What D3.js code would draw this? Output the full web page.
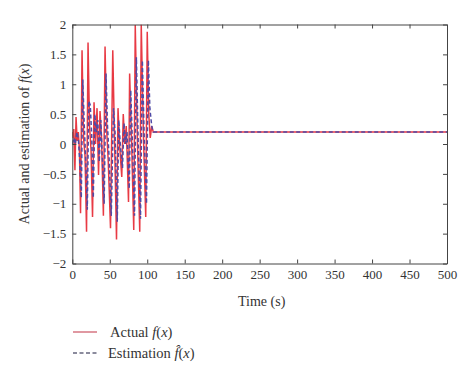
<!DOCTYPE html>
<html>
<head>
<meta charset="utf-8">
<script src="https://cdn.jsdelivr.net/npm/d3@7"></script>
<style>
  body { margin: 0; background: #fff; }
  text { font-family: "Liberation Serif", "DejaVu Serif", serif; fill: #333; }
</style>
</head>
<body>
<div id="chart"></div>
<script>
// Data
const actualTime = [0, 1, 2, 3.5, 5, 6.5, 8, 9.5, 11, 13, 15, 17, 19, 21, 23, 25, 27, 29, 31, 33, 35, 37, 39,
  41.5, 43.7, 46, 48, 51, 54, 56, 59, 61, 63, 66, 68, 70, 72, 75, 76.5, 79, 82, 84, 87, 90, 92, 95, 98, 100,
  102, 104, 106, 108, 500];
const actualValue = [0.2, 0.1, 0.25, -0.44, 0.45, 0.05, 0.2, -0.1, -1.16, 1.57, 0.1, -0.2, -1.47, 1.70, 0.3, -0.1,
  -1.22, 0.7, 0.0, 0.6, -0.52, 0.55, 0.1, -1.2, 1.63, 0.2, -0.3, -1.41, 1.57, 0.3, -1.6, 0.6, 0.0, -0.55, 0.5,
  0.0, 0.3, -0.97, 1.18, 0.1, -1.44, 1.99, 0.0, -1.47, 2.0, 0.1, -1.22, 1.88, 0.5, 0.1, 0.3, 0.2, 0.2];

const estTime = [0, 2, 4, 6, 8, 10, 12, 14, 16, 18, 20, 22, 24, 26, 28, 30, 32, 34, 36, 38, 40, 42.5, 45, 47, 49,
  52, 55, 57, 60, 62, 64, 67, 69, 71, 73, 76, 78, 80, 83, 85.5, 88, 91, 93.5, 96, 99, 101.5, 103.5, 106, 108,
  110, 500];
const estValue = [0.0, 0.1, 0.0, 0.2, 0.1, -0.3, -0.9, 1.08, 0.3, -0.3, -1.1, 0.72, 0.65, 0.1, -0.9, 0.5, 0.2, 0.4,
  -0.3, 0.4, -0.2, -1.0, 1.18, 0.3, -0.2, -1.2, 0.6, 0.2, -1.3, 0.4, 0.0, -0.4, 0.35, 0.0, 0.2, -0.75, 0.9, 0.1,
  -1.2, 1.45, 0.0, -1.25, 1.4, 0.1, -1.0, 1.4, 0.6, 0.3, 0.2, 0.2, 0.2];

const xTicks = [0, 50, 100, 150, 200, 250, 300, 350, 400, 450, 500];
const yTicks = [-2, -1.5, -1, -0.5, 0, 0.5, 1, 1.5, 2];

const actualColor = "#e83a44";
const estColor = "#4f4aa6";

const margin = { top: 24.5, right: 27, bottom: 113.5, left: 72.3 };
const W = 474, H = 377;
const width = W - margin.left - margin.right;
const height = H - margin.top - margin.bottom;

const svg = d3.select("#chart").append("svg")
  .attr("width", W).attr("height", H);

const g = svg.append("g")
  .attr("transform", `translate(${margin.left},${margin.top})`);

const x = d3.scaleLinear().domain([0, 500]).range([0, width]);
const y = d3.scaleLinear().domain([-2, 2]).range([height, 0]);

g.append("clipPath").attr("id", "clip")
  .append("rect").attr("width", width).attr("height", height);

const actualData = actualTime.map((t, i) => ({ t: t, v: actualValue[i] }));
const estData = estTime.map((t, i) => ({ t: t, v: estValue[i] }));

const line = d3.line().x(d => x(d.t)).y(d => y(d.v));

const plot = g.append("g").attr("clip-path", "url(#clip)");
plot.append("path").datum(actualData)
  .attr("d", line).attr("fill", "none")
  .attr("stroke", actualColor).attr("stroke-width", 1.5);
plot.append("path").datum(estData)
  .attr("d", line).attr("fill", "none")
  .attr("stroke", estColor).attr("stroke-width", 1.5)
  .attr("stroke-dasharray", "4,2.5");

// Axes with inward ticks on all four sides
const fmt = d => d < 0 ? "\u2212" + Math.abs(d) : String(d);
const styleAxis = sel => {
  sel.select(".domain").attr("stroke", "#444");
  sel.selectAll(".tick line").attr("stroke", "#444");
  sel.selectAll("text").style("font-size", "13px").attr("fill", "#333");
};

g.append("g").attr("transform", `translate(0,${height})`)
  .call(d3.axisBottom(x).tickValues(xTicks).tickSize(-4).tickSizeOuter(0).tickPadding(6).tickFormat(fmt))
  .call(styleAxis);
g.append("g")
  .call(d3.axisLeft(y).tickValues(yTicks).tickSize(-4).tickSizeOuter(0).tickPadding(6).tickFormat(fmt))
  .call(styleAxis);
g.append("g")
  .call(d3.axisTop(x).tickValues(xTicks).tickSize(-4).tickSizeOuter(0).tickFormat(""))
  .call(styleAxis);
g.append("g").attr("transform", `translate(${width},0)`)
  .call(d3.axisRight(y).tickValues(yTicks).tickSize(-4).tickSizeOuter(0).tickFormat(""))
  .call(styleAxis);

// Axis titles
svg.append("text")
  .attr("x", margin.left + width / 2 + 2).attr("y", 306)
  .attr("text-anchor", "middle").style("font-size", "14px")
  .text("Time (s)");

const yl = svg.append("text")
  .attr("transform", `translate(29,${margin.top + height / 2}) rotate(-90)`)
  .attr("text-anchor", "middle").style("font-size", "14px");
yl.append("tspan").text("Actual and estimation of ");
yl.append("tspan").style("font-style", "italic").text("f");
yl.append("tspan").text("(");
yl.append("tspan").style("font-style", "italic").text("x");
yl.append("tspan").text(")");

// Legend
const legendItems = [
  { label: "Actual ", fn: "f", color: "#d0606e", dash: null, y: 332 },
  { label: "Estimation ", fn: "f\u0302", color: "#65657e", dash: "4,2.5", y: 353 }
];
const legend = svg.append("g");
legendItems.forEach(d => {
  legend.append("line")
    .attr("x1", 73).attr("x2", 97).attr("y1", d.y).attr("y2", d.y)
    .attr("stroke", d.color).attr("stroke-width", 1.3)
    .attr("stroke-dasharray", d.dash);
  const t = legend.append("text")
    .attr("x", d.dash ? 108 : 110).attr("y", d.y + 5).style("font-size", "14.5px");
  t.append("tspan").text(d.label);
  t.append("tspan").style("font-style", "italic").text(d.fn);
  t.append("tspan").text("(");
  t.append("tspan").style("font-style", "italic").text("x");
  t.append("tspan").text(")");
});
</script>
</body>
</html>
